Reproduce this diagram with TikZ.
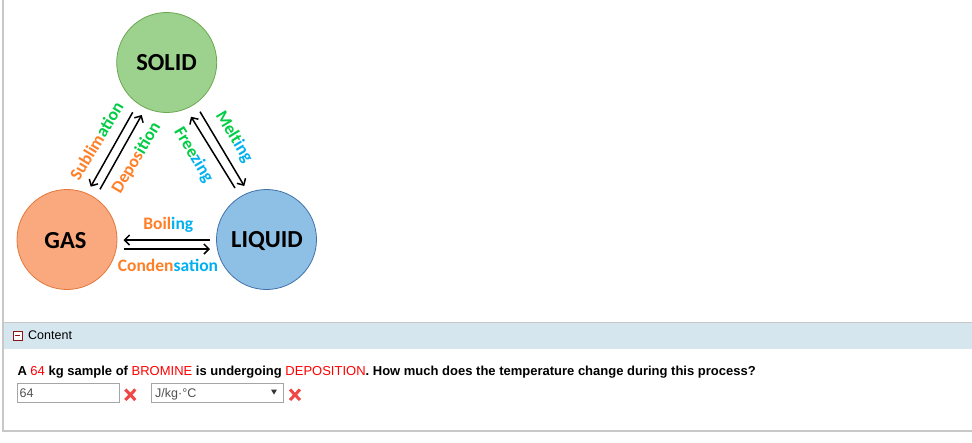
\documentclass[tikz,border=0pt]{standalone}
\usepackage{fontspec}
\setmainfont{Liberation Sans}
\newfontfamily\calib{Carlito}
\usetikzlibrary{arrows.meta}
\definecolor{orng}{RGB}{255,127,39}
\definecolor{grn}{RGB}{0,204,68}
\definecolor{blu}{RGB}{0,176,240}
\definecolor{solidfill}{RGB}{157,210,142}
\definecolor{soliddraw}{RGB}{106,168,79}
\definecolor{gasfill}{RGB}{250,168,125}
\definecolor{gasdraw}{RGB}{226,120,60}
\definecolor{liqfill}{RGB}{142,192,230}
\definecolor{liqdraw}{RGB}{65,113,170}
\definecolor{framegray}{RGB}{200,200,200}
\definecolor{barfill}{RGB}{214,230,239}
\definecolor{webred}{RGB}{255,0,0}
\definecolor{xred}{RGB}{240,70,70}
\definecolor{boxgray}{RGB}{165,165,165}
\definecolor{icored}{RGB}{140,20,20}
\definecolor{inputtext}{RGB}{80,80,80}
\begin{document}
\begin{tikzpicture}[x=1pt,y=-1pt,
  phase/.style={circle,minimum size=100pt,inner sep=0pt,line width=0.8pt},
  phasetext/.style={inner sep=0pt,font=\calib\bfseries\fontsize{24.5}{24.5}\selectfont},
  lbl/.style={inner sep=0pt,font=\calib\bfseries\fontsize{17.5}{17.5}\selectfont},
  arr/.style={line width=1.5pt,-{Straight Barb[length=5pt,width=10pt]}},
  webtext/.style={inner sep=0pt,font=\fontsize{12.5}{14}\selectfont},
  fieldbox/.style={draw=boxgray,line width=0.8pt,inner sep=0pt,anchor=north west},
  redx/.style={xred,line width=3pt}]
\useasboundingbox (0,0) rectangle (972,442);
\fill[white] (0,0) rectangle (972,442);

% phase circles
\node[phase,fill=solidfill,draw=soliddraw] (solid) at (166.7,62.5) {};
\node[phase,fill=gasfill,draw=gasdraw] (gas) at (67,239.5) {};
\node[phase,fill=liqfill,draw=liqdraw] (liquid) at (266.5,239.5) {};
\node[phasetext] (solidt) at (166.5,63) {SOLID};
\node[phasetext] (gast) at (65.5,241) {GAS};
\node[phasetext] (liquidt) at (267,241) {LIQUID};

% arrow end points
\coordinate (sA) at (132.7,112.3);
\coordinate (sB) at (90.7,186.7);
\coordinate (dA) at (100,189.3);
\coordinate (dB) at (141.7,115);
\coordinate (fA) at (235,188);
\coordinate (fB) at (191,116.7);
\coordinate (mA) at (200,111.7);
\coordinate (mB) at (244.3,186);
\coordinate (bA) at (209.5,240);
\coordinate (bB) at (123.5,240);
\coordinate (cA) at (123.5,249);
\coordinate (cB) at (210,249);

\draw[arr] (sA) -- (sB);
\draw[arr] (dA) -- (dB);
\draw[arr] (fA) -- (fB);
\draw[arr] (mA) -- (mB);
\draw[arr] (bA) -- (bB);
\draw[arr] (cA) -- (cB);

% labels
\node[lbl,rotate=59] (subl) at (96.5,141) {\textcolor{orng}{Sublim}\textcolor{grn}{ation}};
\node[lbl,rotate=59] (depo) at (136.5,158) {\textcolor{orng}{Depos}\textcolor{grn}{ition}};
\node[lbl,rotate=-59] (freez) at (193.5,155) {\textcolor{grn}{Free}\textcolor{blu}{zing}};
\node[lbl,rotate=-59] (melt) at (234,137) {\textcolor{grn}{Melt}\textcolor{blu}{ing}};
\node[lbl] (boil) at (168.3,225) {\textcolor{orng}{Boil}\textcolor{blu}{ing}};
\node[lbl] (cond) at (168,265) {\textcolor{orng}{Conden}\textcolor{blu}{sation}};

% web panel
\fill[barfill] (3,322.5) rectangle (972,349);
\draw[framegray,line width=1pt] (3,322.5) -- (972,322.5);
\draw[framegray,line width=1.3pt] (3,0) -- (3,431) -- (972,431);

\node[draw=icored,line width=0.9pt,minimum size=9pt,inner sep=0pt,fill=white] (icon) at (17.7,335.5) {};
\draw[icored,line width=1pt] ([xshift=-2.5pt]icon.center) -- ([xshift=2.5pt]icon.center);
\node[webtext,anchor=base west] (content) at (28,339.6) {Content};

\node[webtext,anchor=base west,font=\bfseries\fontsize{13}{15}\selectfont] (question) at (17.3,375.7)
  {A \textcolor{webred}{\mdseries 64} kg sample of \textcolor{webred}{\mdseries BROMINE} is undergoing \textcolor{webred}{\mdseries DEPOSITION}. How much does the temperature change during this process?};

\node[fieldbox,minimum width=101.5pt,minimum height=19.3pt] (input) at (17,382.7) {};
\node[webtext,anchor=base west,text=inputtext] (inputval) at (19.5,397.5) {64};
\draw[redx] (125.3,389.5) -- (135.3,400) (135.3,389.5) -- (125.3,400);

\node[fieldbox,minimum width=132.6pt,minimum height=19.3pt] (select) at (150.7,382.7) {};
\node[webtext,anchor=base west,text=inputtext] (unit) at (155,397.5) {J/kg·°C};
\fill[black!80] (271,389.5) -- (277,389.5) -- (274,394.5) -- cycle;
\draw[redx] (290,389.5) -- (300,400) (300,389.5) -- (290,400);
\end{tikzpicture}
\end{document}
